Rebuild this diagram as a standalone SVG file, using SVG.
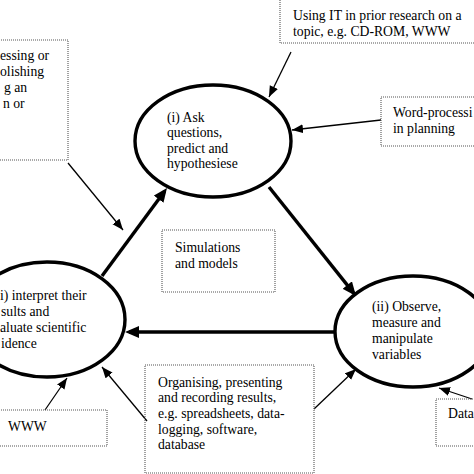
<svg xmlns="http://www.w3.org/2000/svg" width="474" height="474" viewBox="0 0 474 474">
<style>
.box{fill:none;stroke:#555;stroke-width:1.1;stroke-dasharray:1 1}
.ell{fill:#fff;stroke:#000;stroke-width:3.4}
.thick{fill:none;stroke:#000;stroke-width:3.4;marker-end:url(#bigHead)}
.thin{fill:none;stroke:#000;stroke-width:1.3;marker-end:url(#smallHead)}
text{font-family:"Liberation Serif","Times New Roman",serif;font-size:13.7px;fill:#000}
</style>
<defs>
<marker id="bigHead" markerUnits="userSpaceOnUse" markerWidth="15" markerHeight="12" refX="10" refY="6" orient="auto">
<path d="M0,0 L14,6 L0,12 z" fill="#000"/>
</marker>
<marker id="smallHead" markerUnits="userSpaceOnUse" markerWidth="12" markerHeight="10" refX="11" refY="4.5" orient="auto">
<path d="M0,0 L11,4.5 L0,9 z" fill="#000"/>
</marker>
</defs>
<rect width="474" height="474" fill="#fff"/>
<g id="connectors">
<line class="thick" x1="102" y1="276" x2="164.6" y2="191.2"/>
<line class="thick" x1="269" y1="187" x2="353.5" y2="292.9"/>
<line class="thick" x1="335" y1="332" x2="129" y2="332"/>
<line class="thin" x1="68" y1="163" x2="123" y2="230"/>
<line class="thin" x1="291" y1="52" x2="269" y2="97"/>
<line class="thin" x1="381" y1="120" x2="292" y2="130"/>
<line class="thin" x1="147" y1="421" x2="102" y2="367"/>
<line class="thin" x1="314" y1="409" x2="356" y2="369"/>
<line class="thin" x1="45" y1="410" x2="67" y2="378"/>
<line class="thin" x1="472" y1="399" x2="439" y2="388"/>
</g>
<g id="ask">
<ellipse class="ell" cx="213" cy="141" rx="78" ry="56"/>
<text x="167" y="121.5">(i) Ask</text>
<text x="167" y="137">questions,</text>
<text x="167" y="152.5">predict and</text>
<text x="167" y="168">hypothesiese</text>
</g>
<g id="observe">
<ellipse class="ell" cx="413" cy="331.5" rx="78" ry="55.5"/>
<text x="372" y="310.5">(ii) Observe,</text>
<text x="372" y="326.5">measure and</text>
<text x="372" y="342.5">manipulate</text>
<text x="372" y="358.5">variables</text>
</g>
<g id="interpret">
<ellipse class="ell" cx="47" cy="319.5" rx="78" ry="57.5"/>
<text x="0" y="299.5">i) interpret their</text>
<text x="1" y="315.5">sults and</text>
<text x="0" y="331.5">aluate scientific</text>
<text x="1" y="347.5">idence</text>
</g>
<g id="wordproc-topleft">
<rect class="box" x="-5" y="40" width="73" height="120"/>
<text x="0" y="60">essing or</text>
<text x="0" y="76">olishing</text>
<text x="4" y="92">g an</text>
<text x="3" y="107.5">n or</text>
</g>
<g id="prior-research">
<rect class="box" x="280" y="-5" width="200" height="48"/>
<text x="293" y="20">Using IT in prior research on a</text>
<text x="293" y="36">topic, e.g. CD-ROM, WWW</text>
</g>
<g id="word-planning">
<rect class="box" x="381" y="97" width="100" height="49"/>
<text x="393" y="116.5">Word-processi</text>
<text x="393" y="132.5">in planning</text>
</g>
<g id="simulations">
<rect class="box" x="162" y="230" width="113" height="62"/>
<text x="175" y="251.5">Simulations</text>
<text x="175" y="267.5">and models</text>
</g>
<g id="organising">
<rect class="box" x="145" y="365" width="169" height="108"/>
<text x="158" y="386.5">Organising, presenting</text>
<text x="158" y="402">and recording results,</text>
<text x="158" y="417.5">e.g. spreadsheets, data-</text>
<text x="158" y="433.5">logging, software,</text>
<text x="158" y="449">database</text>
</g>
<g id="www">
<rect class="box" x="-5" y="410" width="112" height="36"/>
<text x="8" y="430.5">WWW</text>
</g>
<g id="data">
<rect class="box" x="436" y="399" width="45" height="47"/>
<text x="448" y="418">Data</text>
</g>
</svg>
